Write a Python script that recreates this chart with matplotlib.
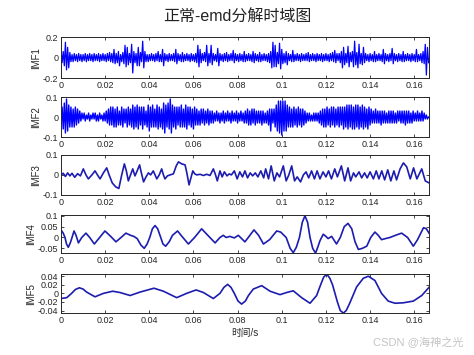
import matplotlib
matplotlib.use('Agg')
import matplotlib.pyplot as plt
import numpy as np

plt.rcParams['font.family'] = ['Liberation Sans', 'Noto Sans CJK SC']
plt.rcParams['axes.unicode_minus'] = False

# IMF1 / IMF2: sampled every 0.5 ms, values in units of 0.01
dt = 0.0005
imf1 = [
    7, -5, 6, -8, 15, -12, 10, -10, 5, -4, 3, -4, 4, -3, 3, -4, 4, -3, 3, -4,
    3, -3, 4, -4, 3, -3, 4, -3, 3, -4, 4, -3, 3, -3, 4, -4, 3, -3, 4, -3,
    3, -4, 4, -3, 5, -4, 4, -5, 8, -6, 4, -5, 6, -8, 3, -4, 5, -6, 12, -9,
    10, -7, 4, -5, 13, -15, 6, -5, 4, -8, 10, -8, 5, -4, 16, -10, 6, -4, 3, -4,
    3, -3, 4, -3, 3, -4, 4, -3, 6, -4, 3, -4, 8, -8, 4, -3, 3, -4, 4, -3,
    3, -3, 4, -4, 8, -6, 4, -3, 3, -4, 5, -4, 3, -3, 4, -3, 3, -4, 4, -3,
    3, -4, 4, -5, 12, -9, 8, -5, 4, -3, 5, -4, 12, -8, 4, -5, 12, -7, 4, -3,
    3, -4, 9, -8, 4, -3, 3, -4, 4, -3, 5, -4, 3, -3, 4, -3, 7, -5, 4, -3,
    3, -4, 4, -3, 3, -4, 6, -4, 3, -3, 4, -3, 3, -4, 6, -5, 4, -3, 3, -4,
    5, -4, 3, -3, 4, -3, 3, -4, 4, -5, 6, -10, 15, -9, 12, -9, 5, -6, 14, -11,
    8, -6, 4, -5, 6, -7, 4, -3, 3, -4, 7, -4, 3, -3, 4, -3, 3, -4, 4, -3,
    3, -3, 4, -3, 5, -4, 3, -3, 4, -3, 3, -4, 4, -3, 3, -3, 4, -4, 3, -3,
    4, -3, 3, -4, 4, -3, 5, -4, 7, -5, 4, -3, 4, -5, 6, -10, 10, -7, 4, -5,
    11, -9, 5, -4, 6, -9, 16, -7, 5, -10, 13, -6, 4, -7, 10, -5, 4, -3, 3, -4,
    4, -3, 3, -4, 6, -4, 3, -3, 4, -3, 3, -4, 8, -6, 4, -3, 3, -4, 4, -3,
    9, -6, 4, -3, 3, -4, 4, -3, 3, -4, 6, -4, 3, -3, 4, -3, 3, -4, 4, -3,
    3, -4, 8, -4, 3, -3, 4, -5, 6, -6, 13, -17, 10, -5,
]
imf2 = [
    -3, 5, -6, 7, -8, 9, -7, 6, -5, 5, -5, 4, -5, 5, -4, 4, -3, 3, -2, 2,
    -1, 2, -2, 1, -1, 2, -2, 1, -1, 2, -1, 2, -2, 1, -2, 2, -1, 1, -2, 2,
    -2, 3, -3, 4, -4, 5, -4, 5, -5, 4, -5, 5, -4, 3, -4, 5, -5, 4, -3, 4,
    -5, 5, -4, 4, -5, 6, -6, 5, -5, 6, -6, 5, -4, 5, -6, 5, -4, 3, -5, 6,
    -7, 5, -5, 6, -5, 4, -5, 6, -6, 5, -5, 4, -6, 7, -8, 6, -5, 7, -6, 9,
    -8, 6, -5, 5, -6, 5, -4, 5, -5, 6, -5, 4, -5, 6, -6, 5, -4, 5, -5, 4,
    -6, 5, -4, 4, -4, 3, -4, 4, -3, 4, -4, 3, -3, 4, -4, 3, -3, 3, -3, 2,
    -2, 3, -2, 2, -3, 2, -2, 3, -3, 2, -2, 3, -2, 2, -3, 3, -2, 2, -2, 3,
    -3, 2, -2, 3, -2, 2, -3, 3, -3, 4, -4, 3, -4, 4, -3, 4, -4, 3, -3, 3,
    -3, 3, -4, 3, -3, 2, -3, 3, -4, 4, -7, 4, -3, 4, -5, 6, -7, 8, -8, 8,
    -9, 8, -7, 8, -7, 6, -5, 5, -5, 4, -5, 5, -4, 4, -5, 5, -4, 4, -5, 4,
    -4, 3, -3, 2, -2, 2, -2, 1, -2, 2, -2, 2, -2, 2, -3, 3, -4, 4, -5, 4,
    -5, 5, -4, 4, -5, 5, -4, 5, -5, 4, -4, 5, -5, 5, -4, 5, -6, 5, -5, 6,
    -6, 6, -5, 6, -6, 5, -6, 6, -5, 6, -6, 5, -5, 6, -6, 5, -5, 4, -6, 5,
    -4, 4, -3, 3, -3, 4, -3, 3, -3, 3, -4, 3, -3, 3, -3, 2, -3, 3, -3, 3,
    -3, 3, -3, 2, -3, 3, -2, 3, -3, 3, -3, 3, -4, 3, -3, 3, -3, 2, -3, 3,
    -2, 2, -2, 3, -2, 2, -2, 3, -2, 2, -1, 1, -1, 0,
]

# IMF3..IMF5: (time s, value)
imf3_t = [0.0, 0.001, 0.002, 0.003, 0.004, 0.005, 0.0062, 0.0075, 0.0088, 0.0101,
          0.0113, 0.0124, 0.014, 0.0154, 0.0165, 0.0177, 0.0192, 0.0207, 0.0218, 0.0232,
          0.0248, 0.0262, 0.0275, 0.0287, 0.0296, 0.0305, 0.0315, 0.0325, 0.0335, 0.0345,
          0.0356, 0.0364, 0.0374, 0.0385, 0.0396, 0.0406, 0.0418, 0.0426, 0.0434, 0.0445,
          0.0456, 0.0464, 0.0471, 0.0482, 0.0494, 0.0509, 0.0522, 0.0532, 0.0547, 0.0562,
          0.057, 0.058, 0.059, 0.0597, 0.0606, 0.0615, 0.063, 0.0645, 0.066, 0.0675,
          0.069, 0.07, 0.0708, 0.072, 0.073, 0.074, 0.0752, 0.0762, 0.0772, 0.0785,
          0.0798, 0.081, 0.0822, 0.0833, 0.0845, 0.0857, 0.0868, 0.088, 0.0892, 0.0905,
          0.0918, 0.0927, 0.094, 0.0952, 0.0966, 0.0978, 0.099, 0.1007, 0.102, 0.1032,
          0.1045, 0.1058, 0.107, 0.1085, 0.1098, 0.111, 0.1122, 0.1135, 0.1148, 0.116,
          0.1173, 0.1187, 0.12, 0.1212, 0.1225, 0.124, 0.1252, 0.127, 0.1285, 0.13,
          0.1312, 0.1325, 0.1335, 0.135, 0.1362, 0.1375, 0.1387, 0.14, 0.1415, 0.1428,
          0.144, 0.1453, 0.1466, 0.148, 0.1494, 0.1508, 0.152, 0.1536, 0.1551, 0.1566,
          0.1582, 0.1597, 0.1612, 0.1634, 0.165, 0.1667]
imf3_v = [0.0, 0.008, -0.008, 0.01, -0.005, 0.008, -0.012, 0.006, -0.005, 0.03,
          0.0, -0.02, 0.0, 0.02, 0.0, -0.02, 0.01, 0.035, 0.0, -0.04,
          -0.06, -0.068, 0.0, 0.055, 0.02, -0.03, 0.0, 0.03, -0.005, 0.02,
          0.05, 0.01, -0.035, -0.01, 0.01, 0.0, 0.02, 0.0, -0.02, 0.0,
          0.03, 0.0, -0.02, -0.005, 0.0, 0.005, 0.045, 0.065, 0.055, 0.05,
          0.01, -0.05, -0.01, 0.02, 0.005, 0.0, 0.003, -0.003, 0.003, -0.003,
          0.03, 0.0, -0.03, 0.02, -0.01, 0.015, -0.005, 0.005, 0.0, 0.02,
          -0.02, 0.015, -0.01, 0.02, -0.015, 0.01, -0.005, 0.01, -0.01, 0.02,
          -0.015, 0.03, -0.02, 0.045, -0.03, 0.01, -0.01, 0.045, -0.03, 0.0,
          0.045, -0.03, -0.01, -0.035, 0.0, 0.015, -0.015, 0.02, -0.02, 0.02,
          -0.02, 0.015, -0.01, 0.02, -0.02, 0.03, -0.01, 0.045, -0.03, 0.035,
          -0.03, 0.01, -0.01, 0.015, -0.015, 0.01, -0.015, 0.015, -0.02, 0.02,
          -0.02, 0.02, -0.025, 0.025, -0.03, 0.02, -0.025, 0.03, 0.06, 0.04,
          -0.02, 0.035, -0.02, 0.03, -0.03, -0.04]

imf4_t = [0.0, 0.001, 0.0018, 0.0025, 0.0033, 0.0042, 0.005, 0.0059, 0.0068, 0.0079,
          0.0094, 0.0113, 0.013, 0.0151, 0.0175, 0.0199, 0.0225, 0.0249, 0.0272, 0.0294,
          0.0315, 0.033, 0.0345, 0.0362, 0.0377, 0.039, 0.0402, 0.0414, 0.0426, 0.0438,
          0.045, 0.0462, 0.0474, 0.049, 0.0505, 0.0528, 0.0552, 0.0577, 0.0605, 0.0637,
          0.0665, 0.0698, 0.072, 0.0735, 0.0748, 0.0765, 0.0785, 0.0803, 0.0833, 0.0852,
          0.0874, 0.0895, 0.0917, 0.0945, 0.0977, 0.0995, 0.102, 0.1038, 0.1052, 0.1066,
          0.108, 0.1093, 0.1105, 0.1117, 0.1128, 0.114, 0.1153, 0.1163, 0.1173, 0.1188,
          0.12, 0.121, 0.1226, 0.1248, 0.1265, 0.1283, 0.13, 0.1317, 0.1332, 0.1347,
          0.1365, 0.1385, 0.1403, 0.1422, 0.1437, 0.1452, 0.147, 0.149, 0.1515, 0.1543,
          0.157, 0.1596, 0.1615, 0.1642, 0.1655, 0.1667]
imf4_v = [0.035, 0.02, 0.0, -0.03, -0.045, -0.025, 0.0, 0.03, 0.01, -0.025,
          0.0, 0.02, 0.0, -0.03, 0.0, 0.03, 0.005, -0.02, 0.0, 0.02,
          0.01, 0.005, -0.005, -0.035, -0.05, -0.03, 0.0, 0.04, 0.055, 0.04,
          0.005, -0.03, -0.04, -0.02, 0.01, 0.03, 0.0, -0.03, 0.0, 0.04,
          0.01, -0.025, 0.0, 0.01, 0.0, 0.005, -0.002, 0.01, -0.02, 0.005,
          0.035, 0.01, -0.03, -0.01, 0.03, 0.025, 0.0, -0.05, -0.07, -0.045,
          0.0, 0.07, 0.1, 0.07, 0.0, -0.05, -0.072, -0.045, -0.015, 0.015,
          0.005, -0.005, 0.005, -0.03, 0.0, 0.05, 0.065, 0.04, -0.02, -0.055,
          -0.05, -0.04, 0.0, 0.025, 0.01, -0.01, -0.005, 0.0, 0.01, 0.02,
          0.0, -0.04, -0.01, 0.045, 0.04, 0.02]

imf5_t = [0.0, 0.0026, 0.0048, 0.0065, 0.0083, 0.01, 0.0116, 0.0154, 0.0192, 0.0234,
          0.0267, 0.0313, 0.0358, 0.0421, 0.0464, 0.0524, 0.0569, 0.0612, 0.0645, 0.069,
          0.072, 0.0738, 0.0755, 0.077, 0.0785, 0.0802, 0.0818, 0.0835, 0.0849, 0.0871,
          0.0909, 0.0947, 0.0992, 0.1022, 0.1052, 0.109, 0.1128, 0.1158, 0.1176, 0.119,
          0.1204, 0.1218, 0.123, 0.1252, 0.1265, 0.1279, 0.1292, 0.1306, 0.1339, 0.1369,
          0.1392, 0.1422, 0.1452, 0.1482, 0.1513, 0.155, 0.1596, 0.1634, 0.1667]
imf5_v = [-0.012, -0.01, 0.0, 0.009, 0.013, 0.01, 0.003, -0.008, 0.0, 0.005,
          0.002, -0.005, 0.003, 0.012, 0.005, -0.01, 0.0, 0.008, 0.002, -0.012,
          0.0, 0.014, 0.021, 0.014, 0.0, -0.018, -0.025, -0.018, -0.005, 0.01,
          0.018, 0.005, -0.003, 0.002, 0.006, -0.01, -0.023, -0.005, 0.02, 0.038,
          0.045, 0.035, 0.02, -0.02, -0.04, -0.046, -0.04, -0.025, 0.015, 0.035,
          0.04, 0.03, 0.0, -0.018, -0.023, -0.022, -0.018, -0.005, 0.014]

labels = ['IMF1', 'IMF2', 'IMF3', 'IMF4', 'IMF5']
yticks = [[-0.2, 0, 0.2], [-0.1, 0, 0.1], [-0.1, 0, 0.1],
          [-0.05, 0, 0.05, 0.1], [-0.04, -0.02, 0, 0.02, 0.04]]
ylims = [(-0.2, 0.2), (-0.1, 0.1), (-0.1, 0.1), (-0.072, 0.103), (-0.046, 0.045)]
xticks = [0, 0.02, 0.04, 0.06, 0.08, 0.1, 0.12, 0.14, 0.16]

t12 = np.arange(len(imf1)) * dt
series = [
    (t12, np.array(imf1) / 100, 'blue', 0.9),
    (t12, np.array(imf2) / 100, 'blue', 1.0),
    (imf3_t, imf3_v, '#1c1cb0', 1.2),
    (imf4_t, imf4_v, '#1c1cb0', 1.2),
    (imf5_t, imf5_v, '#1c1cb0', 1.2),
]

fig = plt.figure(figsize=(4.74, 3.55), dpi=100)
bottoms = [0.780, 0.614, 0.451, 0.287, 0.118]
heights = [0.1155, 0.1127, 0.1127, 0.107, 0.110]
gray = '#262626'
for k, (x, y, c, lw) in enumerate(series):
    ax = fig.add_axes([0.1287, bottoms[k], 0.7764, heights[k]])
    ax.plot(x, y, color=c, lw=lw)
    ax.set_xlim(0, 0.1667)
    ax.set_ylim(*ylims[k])
    ax.set_xticks(xticks)
    ax.set_yticks(yticks[k])
    ax.xaxis.set_major_formatter(plt.FuncFormatter(lambda v, p: f'{v:g}'))
    ax.yaxis.set_major_formatter(plt.FuncFormatter(lambda v, p: f'{v:g}'))
    ax.tick_params(direction='in', length=2.5, width=0.6, labelsize=6.5,
                   colors=gray, pad=2, top=True, right=True)
    for s in ax.spines.values():
        s.set_color(gray)
        s.set_linewidth(0.7)
    ax.set_ylabel(labels[k], fontsize=7, color=gray, labelpad=1)
    if k == 4:
        ax.set_xlabel('时间/s', fontsize=7, color=gray, labelpad=2)

fig.text(0.5, 0.952, '正常-emd分解时域图', ha='center', va='center', fontsize=11.5, color='#222222')
fig.text(0.977, 0.034, 'CSDN @海神之光', ha='right', va='center', fontsize=8, color='#c4c4c4')

fig.savefig('out.png', dpi=100)
